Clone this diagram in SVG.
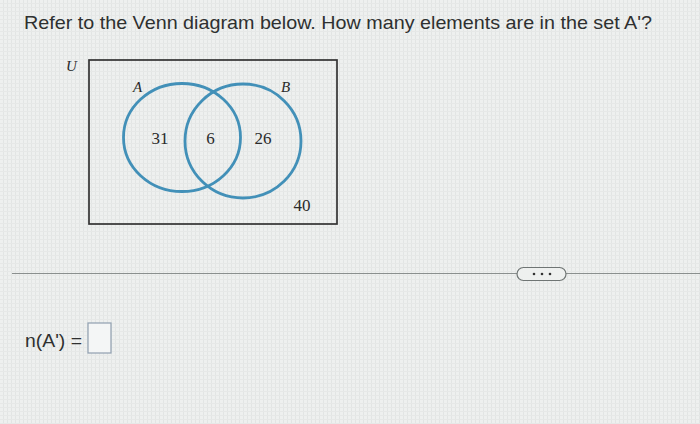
<svg xmlns="http://www.w3.org/2000/svg" width="700" height="424" viewBox="0 0 700 424">
<defs>
<style>
.sans{font-family:"Liberation Sans",Arial,sans-serif;fill:#2e3030}
.serif{font-family:"Liberation Serif","Times New Roman",serif;fill:#2a2a2a}
.set{fill:none;stroke:#4290b8;stroke-width:2.8}
</style>
<pattern id="grid" width="4" height="4" patternUnits="userSpaceOnUse">
<rect width="4" height="4" fill="#eef0ef"/>
<rect x="3" width="1" height="4" fill="#e2e5e4"/>
<rect y="3" width="4" height="1" fill="#e6e8e7"/>
</pattern>
</defs>
<rect width="700" height="424" fill="url(#grid)"/>
<g id="title"><text class="sans" x="24" y="29" font-size="19" textLength="628" lengthAdjust="spacingAndGlyphs">Refer to the Venn diagram below. How many elements are in the set A'?</text></g>
<g id="universe">
<rect x="89" y="60" width="248" height="164" fill="none" stroke="#333" stroke-width="1.7"/>
<text class="serif" x="66" y="71" font-size="15" font-style="italic">U</text>
<text class="serif" x="302" y="211" font-size="17" text-anchor="middle">40</text>
</g>
<g id="setA">
<ellipse class="set" cx="182" cy="137.5" rx="58.5" ry="54"/>
<text class="serif" x="133" y="92" font-size="15" font-style="italic">A</text>
<text class="serif" x="160" y="144" font-size="17" text-anchor="middle">31</text>
</g>
<g id="setB">
<ellipse class="set" cx="243" cy="141" rx="58" ry="57"/>
<text class="serif" x="281" y="92" font-size="15" font-style="italic">B</text>
<text class="serif" x="263" y="144" font-size="17" text-anchor="middle">26</text>
</g>
<g id="intersection"><text class="serif" x="210.5" y="144" font-size="17" text-anchor="middle">6</text></g>
<g id="divider">
<line x1="12" y1="273.5" x2="517" y2="273.5" stroke="#8a8f8e" stroke-width="1.2"/>
<line x1="566" y1="273.5" x2="700" y2="273.5" stroke="#8a8f8e" stroke-width="1.2"/>
<rect x="517" y="267.5" width="49" height="13" rx="6.5" fill="#eef0ef" stroke="#6f7574" stroke-width="1.2"/>
<circle cx="534" cy="274" r="1.3" fill="#333"/>
<circle cx="542" cy="274" r="1.3" fill="#333"/>
<circle cx="550" cy="274" r="1.3" fill="#333"/>
</g>
<g id="answer">
<text class="sans" x="25" y="347" font-size="19" textLength="57" lengthAdjust="spacingAndGlyphs">n(A') =</text>
<rect x="88" y="323" width="23" height="30" fill="#f4f6f6" stroke="#8f9fb0" stroke-width="1.2"/>
</g>
</svg>
